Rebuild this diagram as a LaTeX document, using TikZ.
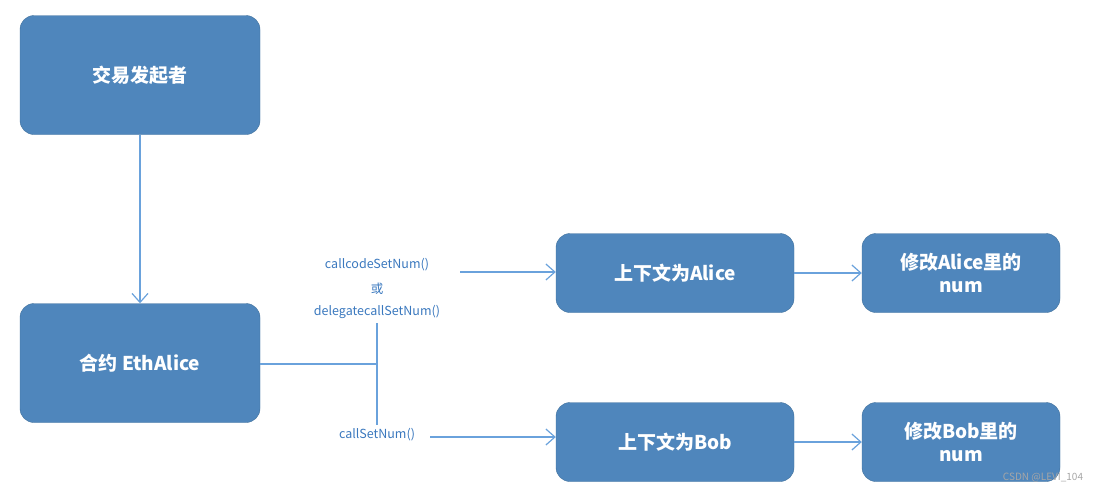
\documentclass[tikz,border=0pt]{standalone}
\usepackage{fontspec}
\setmainfont{Noto Sans CJK SC}
\usetikzlibrary{arrows.meta}
\definecolor{boxfill}{HTML}{4F86BC}
\definecolor{boxline}{HTML}{41719C}
\definecolor{lnk}{HTML}{6AA2DC}
\definecolor{lbl}{HTML}{3A78BE}
\tikzset{
 box/.style={draw=boxline,fill=boxfill,rounded corners=14pt,text=white,font=\fontsize{19}{23}\selectfont\bfseries,align=center,inner sep=0pt},
 lk/.style={draw=lnk,line width=1.2pt},
 arr/.style={lk,-{Straight Barb[length=9pt,width=16pt,line width=1.2pt]}},
 lab/.style={text=lbl,font=\fontsize{12.5}{15}\selectfont,inner sep=1pt}
}
\begin{document}
\begin{tikzpicture}[x=1pt,y=-1pt]
\useasboundingbox (0,0) rectangle (1114,493);
\node[box,minimum width=240pt,minimum height=119pt] (a) at (140,75) {交易发起者};
\node[box,minimum width=240pt,minimum height=119pt] (c) at (140,363) {合约 EthAlice};
\node[box,minimum width=238pt,minimum height=79pt] (ca) at (675,273) {上下文为Alice};
\node[box,minimum width=198pt,minimum height=79pt] (ma) at (961,273) {修改Alice里的\\num};
\node[box,minimum width=238pt,minimum height=79pt] (cb) at (675,442) {上下文为Bob};
\node[box,minimum width=198pt,minimum height=79pt] (mb) at (961,442) {修改Bob里的\\num};
\draw[arr] (a) -- (c);
\coordinate (j) at (377,364);
\coordinate (jt) at (377,323);
\coordinate (jb) at (377,425);
\draw[lk] (c.east |- j) -- (j);
\draw[lk] (jt) -- (jb);
\node[lab] (l1) at (377,265) {callcodeSetNum()};
\node[lab] (l2) at (377,289) {或};
\node[lab] (l3) at (377,312) {delegatecallSetNum()};
\node[lab] (l4) at (377,435) {callSetNum()};
\coordinate (s1) at (460,272);
\coordinate (s2) at (430,437);
\draw[arr] (s1) -- (s1 -| ca.west);
\draw[arr] (s2) -- (s2 -| cb.west);
\draw[arr] (ca) -- (ma);
\draw[arr] (cb) -- (mb);
\node[text=gray!70,font=\fontsize{10}{12}\selectfont] (wm) at (1043,478) {CSDN @LEVI\_104};
\end{tikzpicture}
\end{document}
